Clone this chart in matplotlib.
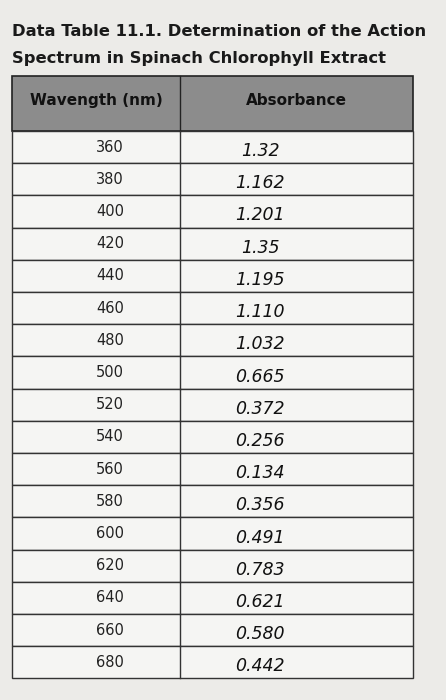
import matplotlib.pyplot as plt
from matplotlib.patches import Rectangle

wavelengths = [360, 380, 400, 420, 440, 460, 480, 500, 520, 540, 560, 580, 600, 620, 640, 660, 680]
absorbance = ["1.32", "1.162", "1.201", "1.35", "1.195", "1.110", "1.032", "0.665", "0.372",
              "0.256", "0.134", "0.356", "0.491", "0.783", "0.621", "0.580", "0.442"]
headers = ["Wavength (nm)", "Absorbance"]

fig = plt.figure(figsize=(4.46, 7.0), dpi=100)
ax = fig.add_axes([0, 0, 1, 1])
ax.set_xlim(0, 446)
ax.set_ylim(700, 0)
ax.axis("off")
fig.patch.set_facecolor("#ecebe8")

ax.text(12, 32, "Data Table 11.1. Determination of the Action", fontsize=11.8,
        fontweight="bold", va="center", color="#1a1a1a")
ax.text(12, 58, "Spectrum in Spinach Chlorophyll Extract", fontsize=11.8,
        fontweight="bold", va="center", color="#1a1a1a")

left, mid, right = 12, 180, 413
top, head_bot = 76, 131
row_h = 32.2

ax.add_patch(Rectangle((left, top), right - left, head_bot - top,
                       facecolor="#8c8c8c", edgecolor="#222", lw=1.2))
ax.plot([mid, mid], [top, head_bot], color="#222", lw=1)
ax.text((left + mid) / 2, (top + head_bot) / 2 - 3, headers[0], ha="center", va="center",
        fontsize=11, fontweight="bold", color="#111")
ax.text((mid + right) / 2, (top + head_bot) / 2 - 3, headers[1], ha="center", va="center",
        fontsize=11, fontweight="bold", color="#111")

for i, (w, a) in enumerate(zip(wavelengths, absorbance)):
    y0 = head_bot + i * row_h
    ax.add_patch(Rectangle((left, y0), right - left, row_h,
                           facecolor="#f5f5f3", edgecolor="#333", lw=1))
    ax.plot([mid, mid], [y0, y0 + row_h], color="#333", lw=1)
    ax.text(mid - 70, y0 + row_h / 2, str(w), ha="center", va="center",
            fontsize=10.5, color="#222")
    ax.text(260, y0 + row_h / 2 + 4, a, ha="center", va="center", fontsize=12.5,
            color="#111", fontstyle="italic")

fig.savefig("out.png", dpi=100)
